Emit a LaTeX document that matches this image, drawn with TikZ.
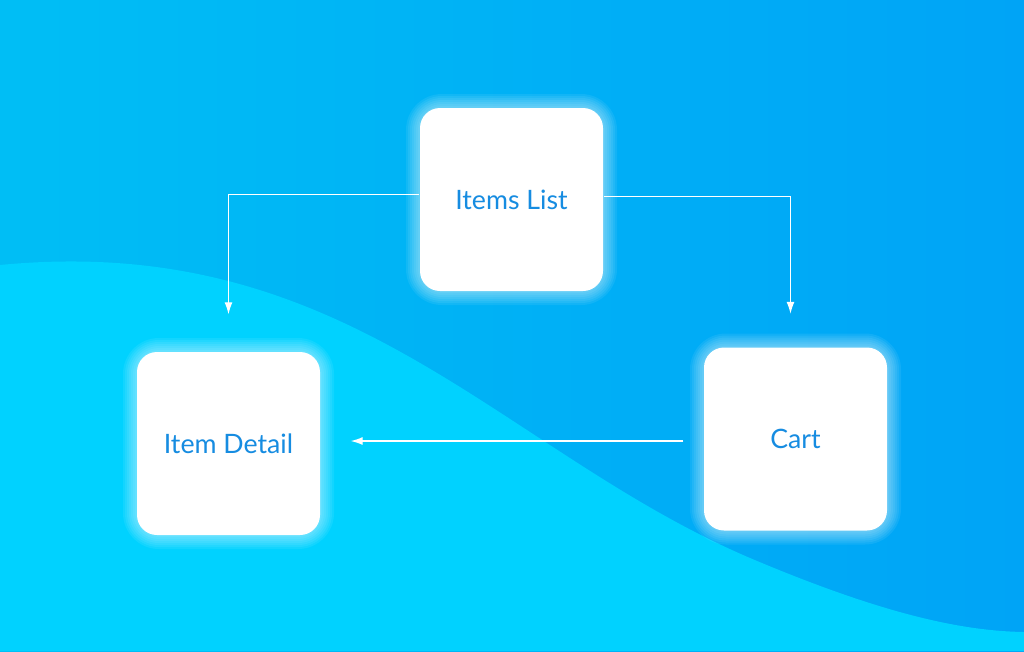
\documentclass[tikz,border=0pt]{standalone}
\usepackage{fontspec}
\setmainfont{Lato}
\usetikzlibrary{arrows.meta,positioning,calc}
\definecolor{skytop}{RGB}{0,190,245}
\definecolor{skyright}{RGB}{0,164,246}
\definecolor{wavecyan}{RGB}{0,210,255}
\definecolor{labelblue}{RGB}{22,140,225}

\tikzset{
  screen/.style={draw=none, fill=white, rounded corners=0.2cm,
    minimum width=1.83cm, minimum height=1.83cm, inner sep=0pt,
    text=labelblue, font=\fontsize{7.6}{9}\selectfont},
  flow/.style={draw=white, line width=0.35pt,
    -{Latex[length=0.12cm,width=0.08cm]}}
}

\begin{document}
\begin{tikzpicture}
    % Background
    \useasboundingbox (0,0) rectangle (10.24,6.51);
    \shade[left color=skytop, right color=skyright] (0,0) rectangle (10.24,6.51);

    % Lower wave
    \fill[wavecyan] (0,3.86) .. controls (3.5,4.2) and (5.0,2.0) .. (7.5,0.93)
        .. controls (8.8,0.38) and (9.6,0.2) .. (10.24,0.19)
        -- (10.24,0) -- (0,0) -- cycle;

    % Glow around the screens
    \foreach \c in {{5.115,4.515},{2.285,2.075},{7.955,2.12}} {
        \foreach \g in {0.14,0.12,0.10,0.08,0.06,0.04,0.02} {
            \fill[white, opacity=0.07, rounded corners=0.22cm+\g cm]
                ($(\c)+(-0.915-\g,-0.915-\g)$) rectangle ($(\c)+(0.915+\g,0.915+\g)$);
        }
    }

    % Screens
    \node[screen] (items) at (5.115,4.515) {Items List};
    \node[screen] (detail) at (2.285,2.075) {Item Detail};
    \node[screen] (cart) at (7.955,2.12) {Cart};

    % Navigation
    \draw[flow, shorten >=0.37cm] ([yshift=0.05cm]items.west) -| (detail.north);
    \draw[flow, shorten >=0.33cm] ([yshift=0.03cm]items.east) -| ([xshift=-0.05cm]cart.north);
    \draw[flow, shorten <=0.2cm, shorten >=0.3cm] ([yshift=-0.02cm]cart.west) -- ([yshift=-0.02cm]cart.west -| detail.east);
\end{tikzpicture}
\end{document}
